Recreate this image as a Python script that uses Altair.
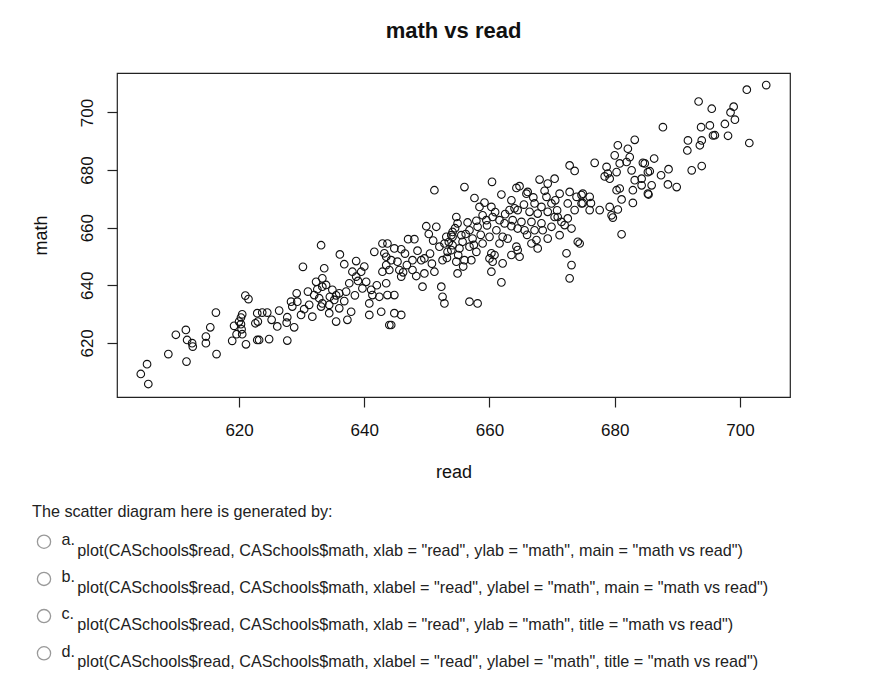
import altair as alt
import pandas as pd

# ---- data (read score, math score) ----
read_vals = [
    604.3, 605.3, 605.5, 608.7, 611.6, 609.9, 611.5, 611.7, 612.5, 612.6, 614.7, 614.7, 615.4, 616.4, 616.3,
    618.9, 619.2, 619.6, 620.0, 620.3, 620.5, 620.3, 620.4, 620.5, 621.0, 621.5, 621.1, 622.6, 622.9, 622.9,
    630.2, 623.0, 623.7, 624.5, 625.2, 626.1, 626.4, 627.7, 627.6, 628.8, 628.3, 628.5, 629.2, 629.3, 629.9,
    630.4, 631.0, 631.2, 631.7, 632.3, 632.0, 632.5, 633.1, 633.1, 623.2, 624.8, 627.7, 633.3, 632.8,
    636.1, 636.8, 638.7, 641.6, 642.9, 643.2, 633.6, 633.9, 634.9, 633.3, 634.4, 635.2, 636.0, 636.0, 637.1,
    637.6, 638.1, 637.9, 637.3, 638.7, 639.5, 639.7, 640.3, 641.1, 641.3, 640.8, 640.8, 642.4, 642.9, 643.5,
    643.5, 642.7, 644.0, 634.4, 635.5, 633.3,
    649.9, 651.5, 647.0, 648.0, 643.7, 643.5, 644.8, 645.9, 644.3, 645.3, 644.0, 645.6, 645.9, 647.7, 649.1,
    649.6, 647.7, 648.3, 649.6, 649.3, 651.2, 652.0, 652.5, 653.3, 653.9, 653.1, 652.3, 652.5, 652.8, 643.7,
    644.8, 644.8, 645.9, 644.3, 651.2,
    660.4, 656.0, 661.9, 657.6, 659.2, 658.4, 660.3, 663.5, 664.3, 663.2, 658.9, 660.5, 654.7, 654.9, 656.8,
    658.1, 655.5, 654.1, 659.5, 661.6, 662.4, 663.7, 661.1, 660.0, 662.1, 662.9, 658.9, 656.8, 655.2, 653.9,
    657.9, 656.0, 654.7, 657.1, 654.9, 660.3, 660.0, 660.8, 662.1, 663.5, 664.3, 660.5, 660.3, 661.9, 656.8,
    658.1, 654.1, 655.7, 657.3, 661.6, 654.1, 664.0,
    672.8, 673.6, 668.0, 670.4, 669.3, 664.8, 666.1, 665.9, 669.1, 671.2, 672.8, 673.9, 674.7, 667.2, 668.3,
    669.9, 672.5, 673.6, 674.7, 664.5, 666.4, 667.7, 669.3, 670.9, 671.5, 672.5, 665.1, 666.7, 668.3, 669.9,
    672.0, 664.5, 665.6, 667.2, 668.5, 667.5, 669.3, 671.2, 674.1, 666.7, 667.7, 664.5, 664.8, 672.3, 673.1,
    672.8, 670.4, 673.1,
    683.2, 680.5, 682.1, 680.0, 682.4, 676.8, 678.7, 680.8, 681.9, 684.5, 678.4, 678.9, 680.3, 682.7, 685.3,
    679.2, 683.2, 684.3, 680.3, 680.8, 682.9, 684.3, 685.3, 681.1, 682.9, 677.6, 679.2, 680.5, 679.5, 679.7,
    681.1, 674.9, 676.0, 674.9, 676.2, 676.0, 674.4,
    693.4, 695.5, 687.7, 693.8, 695.2, 695.7, 691.7, 693.9, 693.6, 691.6, 686.3, 684.8, 685.6, 687.4, 688.6,
    692.3, 693.9, 685.9, 688.5, 689.9, 685.4,
    704.2, 701.1, 699.0, 698.5, 699.2, 697.6, 696.0, 698.1, 701.5,
    653.5, 655.0, 656.2, 657.5, 653.2, 655.8, 658.6, 659.6, 656.5, 652.8, 654.5, 657.9, 660.9, 662.5,
    646.5, 646.8, 648.5, 650.5, 650.8, 646.2, 651.0, 650.3,
    635.5, 636.8, 638.5, 639.0, 634.5, 642.0, 640.0,
    665.5, 667.0, 668.8, 670.5, 666.0, 663.5, 670.8,
]
math_vals = [
    609.2, 612.6, 605.7, 616.1, 613.5, 622.8, 624.5, 621.0, 619.9, 618.7, 622.2, 619.9, 625.4, 616.1, 630.5,
    620.7, 625.9, 623.0, 627.4, 628.8, 629.9, 626.5, 624.7, 623.0, 636.4, 635.2, 619.5, 626.8, 621.0, 630.3,
    646.4, 627.4, 630.5, 630.5, 628.0, 625.7, 631.2, 628.9, 627.0, 625.4, 634.3, 632.6, 637.2, 634.3, 629.7,
    631.7, 637.8, 633.2, 629.1, 641.2, 636.6, 638.6, 632.6, 653.9, 621.0, 621.3, 620.8, 639.5, 635.5,
    650.7, 647.3, 648.4, 651.6, 654.5, 651.1, 645.9, 640.1, 638.4, 633.7, 633.2, 634.9, 637.2, 632.0, 637.8,
    640.7, 644.7, 630.8, 628.0, 643.0, 644.7, 638.9, 641.2, 638.4, 636.6, 633.7, 629.7, 636.0, 644.7, 647.0,
    640.7, 630.8, 626.2, 630.3, 627.4, 642.4,
    660.5, 660.3, 656.0, 656.0, 654.5, 649.9, 652.8, 652.5, 648.7, 648.2, 645.3, 645.3, 643.0, 648.7, 648.7,
    649.3, 645.3, 643.2, 644.1, 639.5, 644.7, 653.4, 648.7, 651.6, 657.4, 656.8, 639.5, 636.0, 633.7, 636.6,
    636.6, 630.3, 629.7, 626.2, 673.0,
    675.9, 674.1, 671.5, 670.3, 668.7, 667.2, 667.2, 669.5, 673.8, 666.1, 664.3, 663.7, 663.7, 661.5, 659.1,
    660.3, 657.4, 656.8, 662.6, 662.6, 661.5, 662.6, 659.1, 656.8, 656.8, 656.2, 654.5, 653.4, 652.8, 652.2,
    651.6, 648.7, 648.2, 648.7, 644.1, 651.1, 649.3, 650.5, 647.6, 650.5, 653.4, 648.2, 644.7, 641.0, 634.3,
    633.7, 658.5, 655.1, 656.2, 654.5, 653.9, 666.7,
    681.6, 679.7, 676.7, 677.0, 675.3, 674.4, 672.4, 671.8, 670.7, 671.8, 672.4, 670.7, 671.3, 668.4, 667.2,
    668.4, 668.4, 666.1, 668.4, 666.1, 665.5, 664.9, 665.5, 663.7, 662.0, 663.2, 662.0, 662.0, 661.5, 660.3,
    660.9, 659.7, 659.1, 659.1, 659.1, 655.7, 656.2, 657.4, 655.1, 654.5, 652.8, 652.2, 649.9, 651.1, 647.0,
    642.4, 663.7, 659.7,
    690.5, 688.6, 687.4, 685.1, 684.5, 682.5, 681.1, 682.3, 682.8, 682.5, 677.8, 678.8, 679.3, 679.9, 679.3,
    677.0, 676.5, 677.0, 673.0, 673.6, 673.0, 674.7, 671.8, 669.8, 668.6, 666.1, 667.2, 666.3, 664.3, 663.5,
    657.7, 671.8, 670.7, 668.5, 668.5, 666.1, 654.5,
    703.8, 701.3, 694.9, 694.9, 695.5, 692.0, 690.3, 690.3, 688.6, 686.8, 684.0, 682.3, 679.6, 678.2, 680.3,
    679.9, 681.4, 674.7, 675.0, 674.1, 671.5,
    709.5, 707.9, 702.0, 700.0, 697.5, 696.0, 692.1, 691.9, 689.4,
    655.0, 650.5, 657.8, 654.0, 649.5, 646.5, 657.5, 660.8, 661.8, 654.5, 659.8, 662.4, 665.4, 664.7,
    651.0, 647.0, 652.0, 651.0, 647.5, 644.5, 655.5, 657.8,
    636.5, 634.5, 636.5, 641.5, 636.0, 640.0, 646.5,
    668.0, 670.5, 672.8, 669.5, 657.5, 660.5, 666.0,
]

x_ticks = [620, 640, 660, 680, 700]
y_ticks = [620, 640, 660, 680, 700]

chart_title = "math vs read"
x_title = "read"
y_title = "math"
question = "The scatter diagram here is generated by:"
option_letters = ["a.", "b.", "c.", "d."]
option_texts = [
    'plot(CASchools$read, CASchools$math, xlab = "read", ylab = "math", main = "math vs read")',
    'plot(CASchools$read, CASchools$math, xlabel = "read", ylabel = "math", main = "math vs read")',
    'plot(CASchools$read, CASchools$math, xlab = "read", ylab = "math", title = "math vs read")',
    'plot(CASchools$read, CASchools$math, xlabel = "read", ylabel = "math", title = "math vs read")',
]

FONT = "Liberation Sans"
W, H = 673, 324
LEFT, TOP = 117, 73
TXT = 16.2

df = pd.DataFrame({"read": read_vals, "math": math_vals})

scatter = alt.Chart(df).mark_point(
    shape="circle", filled=False, color="#111", size=58, strokeWidth=1.1, opacity=1
).encode(
    x=alt.X("read:Q",
            scale=alt.Scale(domain=[600.5, 708.0], nice=False, zero=False),
            axis=alt.Axis(values=x_ticks, grid=False, domain=False, tickSize=10,
                          tickColor="#222", tickWidth=1.2, labelFont=FONT, labelFontSize=17,
                          labelColor="#111", labelBaseline="alphabetic", labelPadding=28,
                          labelFlush=False, labelOverlap=False,
                          title=x_title, titleFont=FONT, titleFontSize=18,
                          titleFontWeight="normal", titleColor="#111",
                          titleX=W / 2, titleY=80, titleBaseline="alphabetic",
                          titleAlign="center")),
    y=alt.Y("math:Q",
            scale=alt.Scale(domain=[601.2, 713.7], nice=False, zero=False),
            axis=alt.Axis(values=y_ticks, grid=False, domain=False, tickSize=10,
                          tickColor="#222", tickWidth=1.2, labelFont=FONT, labelFontSize=17,
                          labelColor="#111", labelAngle=270, labelAlign="center",
                          labelBaseline="alphabetic", labelPadding=15,
                          labelFlush=False, labelOverlap=False,
                          title=y_title, titleFont=FONT, titleFontSize=18,
                          titleFontWeight="normal", titleColor="#111",
                          titleAngle=270, titleX=46 - LEFT, titleY=H / 2,
                          titleBaseline="alphabetic", titleAlign="center")),
)

layers = [scatter]

# chart title
layers.append(
    alt.Chart(pd.DataFrame({"t": [chart_title]})).mark_text(
        font=FONT, fontSize=22, fontWeight="bold", color="#111", align="center",
        baseline="alphabetic"
    ).encode(text="t:N", x=alt.value(W / 2), y=alt.value(38 - TOP))
)

layers.append(
    alt.Chart(pd.DataFrame({"t": [question]})).mark_text(
        font=FONT, fontSize=TXT, color="#222", align="left", baseline="alphabetic"
    ).encode(text="t:N", x=alt.value(32 - LEFT), y=alt.value(517 - TOP))
)

for i, (letter, txt) in enumerate(zip(option_letters, option_texts)):
    step = 37.2 * i
    layers.append(
        alt.Chart(pd.DataFrame({"t": [letter]})).mark_point(
            shape="circle", filled=False, color="#6e6e6e", size=175, strokeWidth=1.3
        ).encode(x=alt.value(44 - LEFT), y=alt.value(541.7 - TOP + step))
    )
    layers.append(
        alt.Chart(pd.DataFrame({"t": [letter]})).mark_text(
            font=FONT, fontSize=TXT, color="#222", align="left", baseline="alphabetic"
        ).encode(text="t:N", x=alt.value(61.5 - LEFT), y=alt.value(545 - TOP + step))
    )
    layers.append(
        alt.Chart(pd.DataFrame({"t": [txt]})).mark_text(
            font=FONT, fontSize=TXT, color="#222", align="left", baseline="alphabetic"
        ).encode(text="t:N", x=alt.value(77.3 - LEFT), y=alt.value(555.5 - TOP + step))
    )

chart = alt.layer(*layers).properties(
    width=W,
    height=H,
    autosize="none",
    background="white",
    padding={"left": LEFT, "top": TOP, "right": 891 - LEFT - W, "bottom": 680 - TOP - H},
).configure_view(
    stroke="#222", strokeWidth=1.2
)

chart.save("out.html", embed_options={"renderer": "svg", "actions": False})
